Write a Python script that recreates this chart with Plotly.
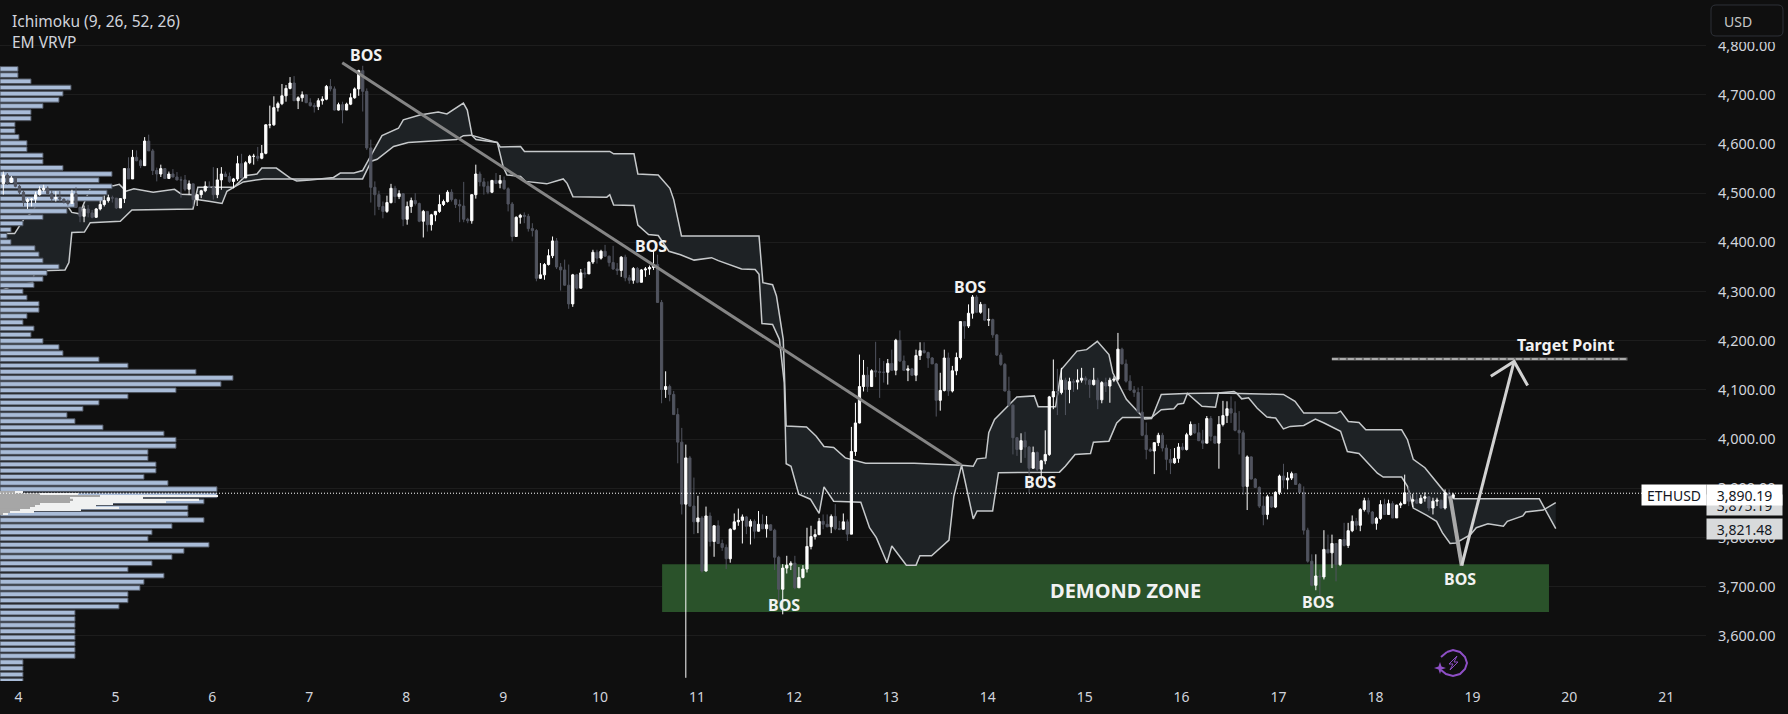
import plotly.graph_objects as go

BG = "#0f0f0f"
TEXT = "#d1d4dc"

# hourly ETHUSD candles (open = previous close)
first_open = 4519
first_day = 3.843
candle_close = [
    4537,4522,4531,4514,4502,4483,4487,4488,4497,4507,4510,4499,
    4489,4491,4488,4483,4479,4499,4471,4453,4468,4460,4451,4468,
    4477,4485,4491,4490,4470,4489,4550,4529,4573,4566,4556,4606,
    4586,4546,4539,4550,4530,4539,4533,4527,4527,4508,4519,4487,
    4497,4505,4514,4512,4497,4527,4539,4534,4524,4529,4560,4531,
    4562,4575,4575,4571,4581,4639,4639,4674,4682,4698,4713,4724,
    4688,4694,4700,4684,4678,4676,4688,4691,4717,4712,4669,4680,
    4669,4681,4694,4712,4749,4707,
    4592,4512,4497,4473,4463,4481,4510,4493,4499,4447,4473,4485,
    4479,4443,4463,4436,4456,4463,4477,4483,4502,4487,4477,4474,
    4447,4444,4497,4539,4523,4514,4502,4526,4520,4526,4509,4478,
    4412,4451,4455,4453,4428,4424,4327,4334,4355,4373,4403,4350,
    4344,4313,4275,4334,4307,4338,4336,4360,4380,4368,4382,4372,
    4359,4346,4343,4370,4328,4323,4347,4319,4344,4346,4349,4355,
    4278,
    4101,4107,4091,4050,3994,3868,3962,3864,3832,3840,3732,3844,
    3792,3824,3788,3780,3757,3817,3832,3835,3842,3823,3833,3813,
    3827,3818,3826,3815,3760,3695,3738,3744,3748,3698,3719,3736,
    3782,3802,3806,3833,3827,3822,3843,3818,3817,3832,3807,3975,
    4033,4107,4130,4107,4139,4137,4136,4136,4154,4140,4201,4159,
    4140,4143,4130,4170,4180,4176,4165,4153,4079,4099,4165,
    4098,4139,4166,4239,4230,4256,4289,4258,4274,4242,4243,4212,
    4171,4152,4098,4069,4003,3979,3997,3984,3941,3973,3939,3956,
    3969,4086,4097,4095,4120,4101,4117,4116,4120,4124,4120,4111,
    4120,4080,4115,4108,4120,4122,4183,4153,4118,4100,4095,4055,
    4008,3979,3976,3993,4008,
    3982,3959,3952,3961,3984,3979,4009,4030,4013,3997,3992,4042,
    4006,3992,4030,4048,4062,4053,4018,4013,3904,3964,3919,3902,
    3864,3847,3883,3862,3892,3925,3917,3921,3930,3908,3892,3815,
    3752,3703,3722,3720,3776,3769,3788,3745,3796,3784,3814,3833,
    3825,3857,3875,3852,3829,3839,3867,3847,3869,3840,3866,3869,
    3891,3874,3877,3870,3880,3883,3860,3874,3876,3860,3891,3881,
    3887,
]
candle_high = [
    4544,4541,4535,4531,4517,4506,4490,4490,4503,4514,4517,4514,
    4506,4504,4504,4489,4487,4507,4512,4473,4475,4476,4466,4470,
    4485,4495,4497,4495,4490,4490,4551,4573,4588,4587,4569,4614,
    4619,4590,4552,4558,4550,4544,4549,4543,4534,4537,4526,4519,
    4498,4507,4524,4524,4553,4551,4553,4544,4542,4531,4576,4580,
    4565,4578,4580,4594,4598,4640,4678,4697,4686,4722,4720,4736,
    4738,4697,4707,4701,4693,4683,4693,4697,4720,4732,4717,4684,
    4686,4684,4703,4715,4751,4759,
    4713,4609,4524,4505,4483,4495,4519,4515,4506,4500,4483,4491,
    4500,4481,4466,4463,4458,4464,4497,4487,4506,4508,4489,4487,
    4523,4450,4498,4558,4544,4531,4524,4527,4541,4537,4534,4512,
    4482,4453,4458,4461,4458,4439,4427,4358,4358,4386,4412,4409,
    4358,4365,4355,4336,4336,4346,4348,4361,4385,4385,4385,4395,
    4373,4393,4358,4372,4375,4334,4350,4350,4346,4350,4353,4385,
    4375,
    4283,4138,4111,4098,4063,4023,3989,3966,3922,3885,3844,3863,
    3851,3825,3835,3796,3786,3819,3849,3859,3847,3844,3837,3837,
    3854,3847,3844,3827,3818,3763,3746,3763,3752,3763,3740,3744,
    3820,3824,3817,3840,3847,3847,3847,3868,3834,3849,3837,4025,
    4074,4172,4161,4147,4142,4198,4165,4159,4163,4182,4204,4221,
    4170,4150,4145,4182,4197,4197,4178,4167,4155,4135,4182,
    4176,4149,4176,4240,4240,4274,4293,4293,4279,4275,4266,4245,
    4214,4176,4155,4127,4071,4004,4012,4015,3986,3985,3975,3958,
    4018,4088,4162,4143,4145,4125,4125,4122,4142,4145,4128,4122,
    4145,4125,4118,4125,4125,4128,4216,4186,4162,4130,4108,4105,
    4108,4034,3983,3993,4013,
    4013,3989,3980,3982,3992,3992,4013,4036,4031,4033,4019,4047,
    4047,4006,4047,4078,4077,4087,4077,4057,4018,3967,3965,3921,
    3904,3884,3887,3884,3894,3928,3950,3933,3934,3931,3911,3904,
    3820,3766,3766,3735,3815,3806,3806,3789,3797,3830,3830,3845,
    3840,3860,3881,3881,3854,3842,3876,3879,3877,3874,3867,3873,
    3928,3903,3889,3891,3887,3892,3884,3881,3881,3877,3898,3898,
    3891,
]
candle_low = [
    4497,4517,4524,4512,4497,4473,4468,4473,4480,4495,4503,4498,
    4483,4483,4483,4479,4475,4479,4470,4441,4441,4451,4449,4453,
    4465,4473,4481,4481,4468,4470,4480,4529,4529,4565,4551,4557,
    4586,4537,4524,4533,4529,4529,4532,4526,4491,4504,4497,4473,
    4474,4490,4502,4511,4487,4490,4507,4533,4521,4510,4525,4530,
    4531,4559,4558,4565,4569,4579,4632,4637,4666,4679,4686,4711,
    4688,4671,4686,4683,4676,4664,4669,4680,4689,4707,4668,4668,
    4642,4669,4679,4692,4698,4666,
    4588,4481,4455,4466,4449,4460,4479,4480,4488,4433,4436,4460,
    4475,4441,4410,4422,4424,4443,4460,4474,4481,4483,4470,4441,
    4441,4439,4438,4489,4514,4497,4498,4500,4519,4510,4507,4463,
    4402,4411,4438,4439,4422,4412,4321,4326,4324,4353,4368,4346,
    4302,4312,4265,4269,4304,4306,4328,4336,4356,4357,4365,4371,
    4351,4344,4334,4330,4321,4316,4316,4317,4320,4330,4334,4344,
    4277,
    4073,4084,4077,4050,3951,3847,3515,3863,3807,3809,3729,3731,
    3782,3761,3787,3773,3736,3749,3815,3824,3788,3807,3786,3798,
    3812,3817,3800,3814,3734,3668,3644,3727,3734,3695,3698,3717,
    3729,3776,3796,3805,3817,3821,3809,3815,3815,3816,3793,3807,
    3966,4032,4097,4096,4107,4126,4084,4115,4111,4139,4130,4157,
    4139,4118,4129,4118,4161,4174,4145,4153,4046,4058,4097,
    4088,4095,4130,4162,4204,4226,4245,4257,4255,4240,4230,4206,
    4169,4149,4097,4067,3969,3966,3952,3962,3891,3940,3935,3915,
    3949,3966,4061,4049,4091,4049,4073,4096,4101,4115,4111,4084,
    4109,4061,4073,4096,4074,4116,4118,4152,4115,4098,4086,4054,
    4006,3959,3974,3929,3986,
    3975,3937,3929,3950,3952,3977,3977,4007,4011,3996,3980,3992,
    3996,3991,3940,4026,4033,4033,4016,3969,3887,3856,3918,3901,
    3860,3825,3837,3860,3860,3887,3901,3898,3917,3907,3891,3806,
    3749,3701,3693,3681,3715,3768,3738,3711,3742,3782,3779,3811,
    3816,3813,3853,3847,3827,3816,3836,3846,3846,3839,3840,3860,
    3868,3864,3862,3869,3869,3873,3854,3847,3864,3859,3857,3880,
    3881,
]

# Ichimoku cloud edges
span_a_x = [3.81,3.88,3.96,4.05,4.15,4.19,4.33,4.39,4.51,4.55,4.63,4.74,4.77,4.98,5.04,5.11,5.19,5.39,5.61,5.68,
            5.80,5.84,5.98,6.10,6.15,6.22,6.35,6.46,6.51,6.66,6.80,6.87,7.01,7.25,7.32,7.46,7.55,7.64,7.75,7.92,
            7.97,8.14,8.33,8.42,8.59,8.63,8.68,8.72,8.94,8.97,9.18,9.22,10.10,10.14,10.35,10.39,10.60,10.72,10.76,10.84,
            11.64,11.68,11.78,11.82,11.89,11.92,12.13,12.23,12.31,12.41,12.53,12.74,13.24,13.73,13.85,13.89,13.98,14.01,14.07,14.19,
            14.30,14.48,14.52,14.70,14.76,14.92,15.02,15.13,15.25,15.29,15.43,15.53,15.62,15.69,15.79,16.04,16.38,17.05,17.17,17.26,
            17.60,17.64,17.72,17.83,17.90,18.27,18.33,18.39,18.51,18.72,18.81,19.69,19.86]
span_a = [4412,4418,4418,4446,4463,4480,4479,4475,4473,4461,4458,4510,4515,4515,4518,4504,4509,4502,4508,4498,
          4497,4487,4483,4479,4504,4512,4536,4539,4551,4551,4531,4525,4527,4532,4541,4541,4546,4578,4617,4632,
          4649,4659,4665,4661,4683,4669,4617,4609,4603,4594,4595,4585,4585,4580,4580,4539,4537,4510,4487,4413,
          4413,4318,4314,4291,4203,4027,4025,4006,3985,3983,3962,3951,3951,3947,3945,3960,3962,4013,4040,4064,
          4086,4088,4066,4066,4142,4179,4182,4199,4172,4135,4081,4060,4041,4042,4091,4093,4094,4091,4077,4053,
          4053,4057,4036,4034,4019,4019,3999,3959,3942,3891,3879,3879,3818]
span_b_x = [3.81,3.93,4.14,4.17,4.48,4.52,4.55,4.68,4.74,5.05,5.17,5.80,5.85,6.22,6.32,6.53,7.55,7.64,7.70,7.87,
            8.02,8.52,8.59,8.67,8.94,9.00,9.04,9.18,9.23,9.45,9.62,9.66,9.72,10.07,10.10,10.14,10.35,10.39,10.50,10.60,
            10.71,10.83,10.97,11.15,11.22,11.34,11.46,11.60,11.64,11.67,11.78,11.85,11.90,11.92,11.97,12.05,12.17,12.26,12.31,12.41,
            12.69,12.78,12.85,12.96,13.01,13.16,13.26,13.30,13.42,13.60,13.65,13.73,13.85,13.89,14.05,14.11,14.74,14.80,14.90,15.06,
            15.09,15.25,15.33,15.39,15.69,15.79,15.92,15.96,16.02,16.06,16.11,16.21,16.35,16.38,16.54,16.57,16.62,16.69,16.78,16.88,
            16.97,17.05,17.12,17.26,17.38,17.47,17.64,17.71,17.83,18.02,18.08,18.27,18.33,18.39,18.53,18.63,18.69,18.77,18.83,18.98,
            19.04,19.16,19.32,19.36,19.52,19.55,19.73,19.86]
span_b = [4301,4311,4318,4342,4344,4359,4420,4421,4440,4443,4466,4468,4512,4512,4523,4529,4529,4565,4569,4595,
          4603,4609,4617,4618,4603,4554,4537,4534,4524,4519,4529,4520,4493,4492,4497,4476,4475,4435,4416,4414,
          4382,4375,4364,4369,4363,4355,4346,4345,4335,4235,4233,4203,4115,3950,3945,3888,3878,3849,3903,3874,
          3872,3820,3800,3749,3783,3744,3744,3763,3763,3795,3884,3947,3838,3854,3854,3932,3933,3945,3969,3971,
          3994,3996,4033,4044,4044,4060,4062,4071,4073,4093,4084,4067,4065,4094,4097,4093,4082,4084,4063,4045,
          4043,4021,4026,4028,4041,4033,4016,3975,3971,3931,3923,3923,3904,3860,3845,3833,3810,3788,3789,3806,
          3820,3828,3823,3833,3844,3852,3856,3871]

# visible range volume profile, one row per price level from the top
profile_top_price = 4752.6
profile_row = 12.56
profile_volume = [
    18,18,31,71,63,59,43,31,31,15,15,19,27,27,43,43,63,112,99,112,107,103,77,67,43,23,11,7,11,35,39,43,
    59,47,43,34,23,27,39,39,27,23,34,31,43,59,63,
    99,128,196,233,221,176,128,99,83,67,75,103,164,176,176,148,148,156,156,144,168,217,217,204,188,188,
    204,172,152,148,209,184,172,152,128,164,144,140,128,128,119,75,75,75,75,75,75,75,75,23,23,23,23,
]
# value area smear around the current price
smear_price = [3893,3889,3885,3881,3877,3873,3869,3865,3861,3857,3853,3849]
smear_white = [23,78,218,143,199,166,113,96,119,81,34,8]
smear_grey = [15,40,100,70,73,70,40,35,30,20,10,3]

day_ticks = list(range(4, 22))
price_ticks = list(range(3600, 4900, 100))
last_price = 3890.19
pending_price = 3821.48
zone_low, zone_high = 3649, 3746
zone_start, zone_end = 10.64, 19.79
target_price = 4163
target_start, target_end = 17.55, 20.6
trend_days = [7.34, 13.73]
trend_prices = [4765, 3947]
drop_days = [18.77, 18.89]
drop_prices = [3884, 3743]
rise_days = [18.89, 19.43]
rise_prices = [3743, 4158]
head_days = [19.19, 19.43, 19.57]
head_prices = [4128, 4158, 4109]
bos_days = [7.58, 10.53, 13.82, 14.54, 11.90, 17.41, 18.87]
bos_prices = [4780, 4393, 4310, 3912, 3662, 3670, 3715]

PLOT_W, PLOT_H = 1706, 681
x_range = [3.809, 21.41]
y_range = [3508.5, 4892.7]


def paper_path(points, close=False):
    # pixel positions on the page to a path in paper coordinates
    parts = []
    for i, (px, py) in enumerate(points):
        parts.append(f"{'M' if i == 0 else 'L'}{px / PLOT_W:.5f},{1 - py / PLOT_H:.5f}")
    return " ".join(parts) + (" Z" if close else "")


def rounded_box(x0, y0, x1, y1, r):
    return (f"M{(x0 + r) / PLOT_W:.5f},{1 - y0 / PLOT_H:.5f} L{(x1 - r) / PLOT_W:.5f},{1 - y0 / PLOT_H:.5f} "
            f"Q{x1 / PLOT_W:.5f},{1 - y0 / PLOT_H:.5f} {x1 / PLOT_W:.5f},{1 - (y0 + r) / PLOT_H:.5f} "
            f"L{x1 / PLOT_W:.5f},{1 - (y1 - r) / PLOT_H:.5f} "
            f"Q{x1 / PLOT_W:.5f},{1 - y1 / PLOT_H:.5f} {(x1 - r) / PLOT_W:.5f},{1 - y1 / PLOT_H:.5f} "
            f"L{(x0 + r) / PLOT_W:.5f},{1 - y1 / PLOT_H:.5f} "
            f"Q{x0 / PLOT_W:.5f},{1 - y1 / PLOT_H:.5f} {x0 / PLOT_W:.5f},{1 - (y1 - r) / PLOT_H:.5f} "
            f"L{x0 / PLOT_W:.5f},{1 - (y0 + r) / PLOT_H:.5f} "
            f"Q{x0 / PLOT_W:.5f},{1 - y0 / PLOT_H:.5f} {(x0 + r) / PLOT_W:.5f},{1 - y0 / PLOT_H:.5f} Z")


def page_text(text, px, py, size=14, color=TEXT, anchor="left", **kw):
    return dict(text=text, xref="paper", yref="paper", x=px / PLOT_W, y=1 - py / PLOT_H,
                xanchor=anchor, yanchor="middle", showarrow=False,
                font=dict(family="Noto Sans", size=size, color=color), **kw)


def chart_text(text, day, price, size=16):
    return dict(text=f"<b>{text}</b>", xref="x", yref="y", x=day, y=price, showarrow=False,
                font=dict(family="Noto Sans", size=size, color="#f2f2f2"))


def tag(text, py, px0, px1, fill, color="#131722", height=20):
    return dict(text=text, xref="paper", yref="paper", x=(px0 + px1) / 2 / PLOT_W, y=1 - py / PLOT_H,
                xanchor="center", yanchor="middle", showarrow=False, width=px1 - px0, height=height,
                bgcolor=fill, borderpad=0, font=dict(family="Noto Sans", size=14, color=color))


candle_open = [first_open] + candle_close[:-1]
candle_x = [first_day + i / 24 for i in range(len(candle_close))]
profile_price = [profile_top_price - i * profile_row for i in range(len(profile_volume))]

fig = go.Figure()

# cloud sits on the base axes so that everything else draws over it
fig.add_trace(go.Scatter(x=span_a_x, y=span_a, mode="lines", line=dict(color="#c6c9cb", width=1.5)))
fig.add_trace(go.Scatter(x=span_b_x, y=span_b, mode="lines", line=dict(color="#c6c9cb", width=1.5),
                         fill="tonexty", fillcolor="#1e2225"))

fig.add_trace(go.Bar(x=profile_volume, y=profile_price, orientation="h", width=9.5, xaxis="x2", yaxis="y2",
                     marker=dict(color="#a9bcd8", line=dict(color="#4d535e", width=1))))
fig.add_trace(go.Bar(x=smear_white, y=smear_price, orientation="h", width=3.4, xaxis="x2", yaxis="y2",
                     marker=dict(color="#f0f1f1", line=dict(width=0))))
fig.add_trace(go.Bar(x=smear_grey, y=smear_price, orientation="h", width=3.4, xaxis="x2", yaxis="y2",
                     marker=dict(color="#a6a6a6", line=dict(width=0))))

fig.add_trace(go.Candlestick(x=candle_x, open=candle_open, high=candle_high, low=candle_low, close=candle_close,
                             xaxis="x3", yaxis="y3", whiskerwidth=0,
                             increasing=dict(line=dict(color="#ffffff", width=1), fillcolor="#ffffff"),
                             decreasing=dict(line=dict(color="#51545f", width=1), fillcolor="#51545f")))

# drawings
fig.add_trace(go.Scatter(x=x_range, y=[last_price, last_price], mode="lines", xaxis="x3", yaxis="y3",
                         line=dict(color="#ffffff", width=1, dash="1px 2px")))
fig.add_trace(go.Scatter(x=trend_days, y=trend_prices, mode="lines", xaxis="x3", yaxis="y3",
                         line=dict(color="#858585", width=3)))
fig.add_trace(go.Scatter(x=[target_start, target_end], y=[target_price, target_price], mode="lines",
                         xaxis="x3", yaxis="y3", line=dict(color="#6e6e6e", width=3)))
fig.add_trace(go.Scatter(x=[target_start, target_end], y=[target_price, target_price], mode="lines",
                         xaxis="x3", yaxis="y3", line=dict(color="#e8e8e8", width=1, dash="6px 2px")))
fig.add_trace(go.Scatter(x=drop_days, y=drop_prices, mode="lines", xaxis="x3", yaxis="y3",
                         line=dict(color="#a9a9a9", width=4)))
fig.add_trace(go.Scatter(x=rise_days, y=rise_prices, mode="lines", xaxis="x3", yaxis="y3",
                         line=dict(color="#d2d2d2", width=3)))
fig.add_trace(go.Scatter(x=head_days, y=head_prices, mode="lines", xaxis="x3", yaxis="y3",
                         line=dict(color="#d2d2d2", width=3)))

shapes = [
    dict(type="rect", xref="x", yref="y", x0=zone_start, x1=zone_end, y0=zone_low, y1=zone_high,
         fillcolor="#2a522a", line=dict(width=0), layer="between"),
    # the currency button hides the top of the 4,800.00 label
    dict(type="rect", xref="paper", yref="paper", x0=1707 / PLOT_W, x1=1788 / PLOT_W, y0=1 - 42 / PLOT_H, y1=1,
         fillcolor=BG, line=dict(width=0)),
    dict(type="path", xref="paper", yref="paper", path=rounded_box(1711, 5, 1783, 36, 5),
         line=dict(color="#2e3138", width=1), fillcolor=BG),
    # lightning badge
    dict(type="path", xref="paper", yref="paper",
         path=paper_path([(1447, 652), (1453, 650), (1460, 652), (1465, 657), (1467, 663), (1465, 669), (1460, 674),
                          (1453, 676), (1446, 674), (1441, 670)]),
         line=dict(color="#8e4fc6", width=2)),
    dict(type="path", xref="paper", yref="paper",
         path=paper_path([(1441, 657), (1447, 652)]), line=dict(color="#8e4fc6", width=2)),
    dict(type="path", xref="paper", yref="paper",
         path=paper_path([(1457, 656), (1449, 664), (1453, 664), (1450, 670), (1458, 662), (1454, 662)], close=True),
         line=dict(color="#8e4fc6", width=1), fillcolor=BG),
    dict(type="path", xref="paper", yref="paper",
         path=paper_path([(1440, 662), (1441.5, 666.5), (1446, 668), (1441.5, 669.5), (1440, 674),
                          (1438.5, 669.5), (1434, 668), (1438.5, 666.5)], close=True),
         line=dict(width=0), fillcolor="#8e4fc6"),
]

annotations = [
    page_text("Ichimoku (9, 26, 52, 26)", 10, 21, size=15.5),
    page_text("EM VRVP", 10, 42, size=15.5),
    page_text("USD", 1722, 21, size=14, color="#c8c8c8"),
    tag("3,875.19", 505, 1707, 1782, "#d8dadb"),
    tag("ETHUSD", 495, 1642, 1706, "#ffffff"),
    tag("3,890.19", 495, 1707, 1782, "#ffffff"),
    tag("3,821.48", 529, 1707, 1782, "#d8dadb"),
    chart_text("DEMOND ZONE", 15.42, 3693, size=20),
    chart_text("Target Point", 19.96, 4192, size=16),
]
for day, price in zip(bos_days, bos_prices):
    annotations.append(chart_text("BOS", day, price))

hidden_axis = dict(visible=False, showgrid=False, zeroline=False, fixedrange=True)
fig.update_layout(
    width=1788, height=714,
    margin=dict(l=0, r=1788 - PLOT_W, t=0, b=714 - PLOT_H),
    paper_bgcolor=BG, plot_bgcolor=BG,
    showlegend=False, barmode="overlay", boxgap=0.22,
    font=dict(family="Noto Sans", color=TEXT),
    xaxis=dict(range=x_range, tickvals=day_ticks, ticktext=[str(d) for d in day_ticks], showgrid=False,
               zeroline=False, showline=False, ticks="", ticklabelstandoff=6, tickfont=dict(size=14, color=TEXT)),
    yaxis=dict(range=y_range, side="right", tickvals=price_ticks, ticktext=[f"{p:,.2f}" for p in price_ticks],
               gridcolor="#1d1d1d", gridwidth=1, zeroline=False, showline=False, ticks="",
               ticklabelstandoff=11, tickfont=dict(size=14.5, color=TEXT)),
    xaxis2=dict(hidden_axis, range=[0, PLOT_W], overlaying="x", anchor="y2"),
    yaxis2=dict(hidden_axis, range=y_range, overlaying="y", anchor="x2"),
    xaxis3=dict(hidden_axis, range=x_range, overlaying="x", anchor="y3", rangeslider=dict(visible=False)),
    yaxis3=dict(hidden_axis, range=y_range, overlaying="y", anchor="x3"),
    shapes=shapes,
    annotations=annotations,
)

fig.write_html("out.html", config=dict(displayModeBar=False),
               post_script="document.body.style.margin='0';document.body.style.overflow='hidden';")
